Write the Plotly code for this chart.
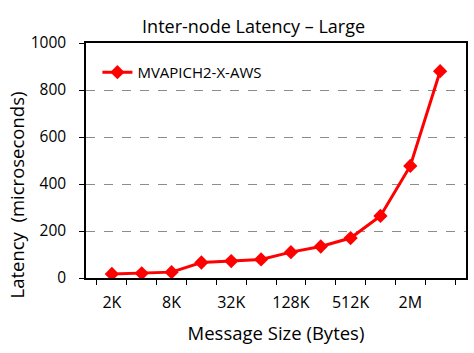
import plotly.graph_objects as go

sizes = ["2K", "4K", "8K", "16K", "32K", "64K", "128K", "256K", "512K", "1M", "2M", "4M"]
latency = [17, 20, 25, 66, 72, 79, 110, 134, 170, 264, 477, 880]
tick_text = [s if i % 2 == 0 else "" for i, s in enumerate(sizes)]
yticks = [0, 200, 400, 600, 800, 1000]

font = "Open Sans, Liberation Sans, sans-serif"

fig = go.Figure()
fig.add_trace(go.Scatter(
    x=sizes, y=latency, mode="lines+markers", name="MVAPICH2-X-AWS",
    line=dict(color="#FF0000", width=3),
    marker=dict(symbol="diamond", size=11, color="#FF0000"),
))

fig.update_layout(
    width=474, height=353,
    margin=dict(l=86, r=6, t=43, b=75),
    paper_bgcolor="white", plot_bgcolor="white",
    font=dict(family=font, size=15, color="#000000"),
    title=dict(text="Inter-node Latency – Large", x=0.535, xanchor="center",
               y=0.925, yanchor="middle", font=dict(size=18)),
    showlegend=True,
    legend=dict(x=0.03, y=0.875, xanchor="left", yanchor="middle",
                bgcolor="rgba(0,0,0,0)", font=dict(size=15)),
    xaxis=dict(
        type="category", categoryorder="array", categoryarray=sizes,
        tickvals=sizes, ticktext=tick_text, tickson="boundaries", tickangle=0,
        ticks="outside", ticklen=5, tickcolor="black", ticklabelstandoff=9,
        showline=True, linecolor="black", linewidth=1.5, mirror=True,
        showgrid=False, tickfont=dict(size=16),
        title=dict(text="Message Size (Bytes)", font=dict(size=18.5), standoff=15),
    ),
    yaxis=dict(
        range=[0, 1000], tickvals=yticks,
        ticks="outside", ticklen=5, tickcolor="black", ticklabelstandoff=10,
        showline=True, linecolor="black", linewidth=1.5, mirror=True,
        showgrid=True, gridcolor="#8c8c8c", griddash="dash", gridwidth=1,
        zeroline=False, tickfont=dict(size=15.5),
    ),
    annotations=[dict(
        text="Latency\u00a0\u00a0(microseconds)", textangle=-90,
        xref="paper", yref="paper", x=-0.183, y=0.353,
        xanchor="center", yanchor="middle", showarrow=False,
        font=dict(size=18.5),
    )],
)

fig.write_html("out.html")
